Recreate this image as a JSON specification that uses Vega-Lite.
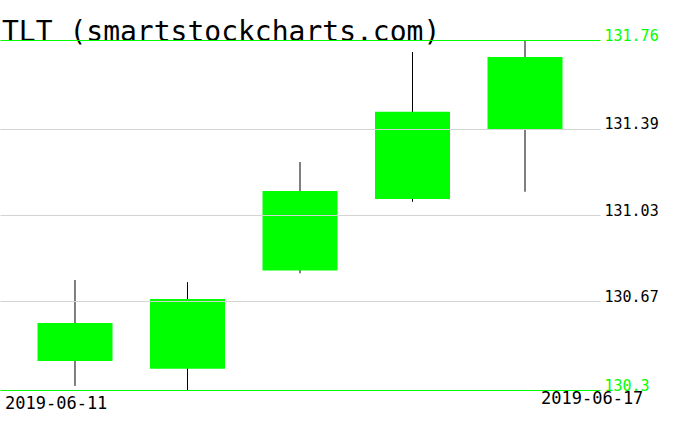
{
  "$schema": "https://vega.github.io/schema/vega-lite/v6.json",
  "autosize": {"type": "none"},
  "width": 600,
  "height": 350,
  "padding": {"left": 0, "top": 40, "right": 76, "bottom": 41},
  "background": "white",
  "title": {
    "text": "TLT (smartstockcharts.com)",
    "anchor": "start",
    "frame": "group",
    "font": "DejaVu Sans Mono",
    "fontSize": 28,
    "fontWeight": "normal",
    "color": "black",
    "baseline": "alphabetic",
    "offset": 1,
    "dx": 2,
    "dy": 42
  },
  "data": {
    "values": [
      {"date": "2019-06-11", "open": 130.421, "high": 130.759, "low": 130.317, "close": 130.579},
      {"date": "2019-06-12", "open": 130.389, "high": 130.750, "low": 130.300, "close": 130.680},
      {"date": "2019-06-13", "open": 130.798, "high": 131.251, "low": 130.787, "close": 131.130},
      {"date": "2019-06-14", "open": 131.097, "high": 131.710, "low": 131.085, "close": 131.461},
      {"date": "2019-06-17", "open": 131.386, "high": 131.760, "low": 131.127, "close": 131.689}
    ]
  },
  "encoding": {
    "x": {
      "field": "date",
      "type": "ordinal",
      "scale": {"paddingInner": 0.3333, "paddingOuter": 0.3333},
      "axis": {
        "title": null,
        "domain": false,
        "ticks": false,
        "grid": false,
        "labelAngle": 0,
        "labelFont": "DejaVu Sans Mono",
        "labelFontSize": 17,
        "labelColor": "black",
        "labelAlign": "left",
        "labelBaseline": "top",
        "labelExpr": "datum.value == '2019-06-11' || datum.value == '2019-06-17' ? datum.value : ''",
        "labelOffset": {"condition": {"test": "datum.value == '2019-06-11'", "value": -70}, "value": 16},
        "labelPadding": {"condition": {"test": "datum.value == '2019-06-11'", "value": 5}, "value": 0}
      }
    }
  },
  "layer": [
    {
      "mark": {"type": "rule", "color": "black", "strokeWidth": 1},
      "encoding": {
        "y": {
          "field": "low",
          "type": "quantitative",
          "scale": {"domain": [130.3, 131.76], "nice": false, "zero": false},
          "axis": {
            "orient": "right",
            "title": null,
            "zindex": 1,
            "domain": false,
            "ticks": false,
            "grid": true,
            "values": [130.3, 130.67, 131.03, 131.39, 131.76],
            "labelExpr": "'' + datum.value",
            "labelFont": "DejaVu Sans Mono",
            "labelFontSize": 15,
            "labelPadding": 4,
            "labelBaseline": "alphabetic",
            "labelAlign": "left",
            "labelColor": {"condition": {"test": "datum.value == 130.3 || datum.value == 131.76", "value": "#00ff00"}, "value": "black"},
            "gridColor": {"condition": {"test": "datum.value == 130.3 || datum.value == 131.76", "value": "#00ff00"}, "value": "#d3d3d3"},
            "gridWidth": 1,
            "gridOpacity": 1
          }
        },
        "y2": {"field": "high"}
      }
    },
    {
      "mark": {"type": "bar", "color": "#00ff00"},
      "encoding": {
        "y": {"field": "open", "type": "quantitative"},
        "y2": {"field": "close"}
      }
    }
  ],
  "config": {
    "view": {"stroke": null}
  }
}
